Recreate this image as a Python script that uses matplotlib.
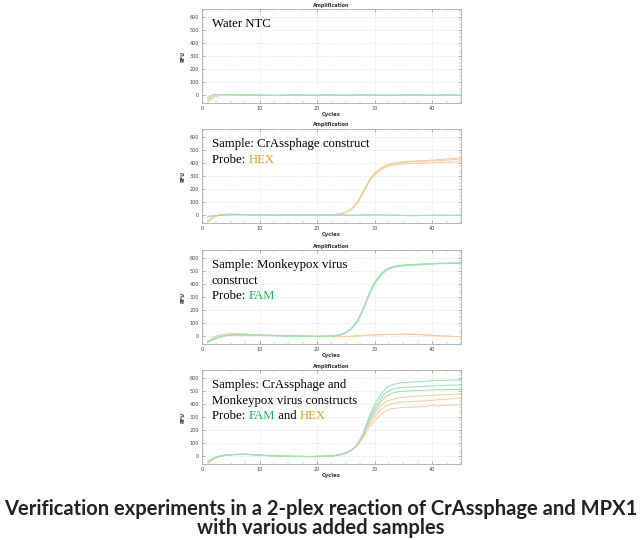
import matplotlib
matplotlib.use("Agg")
import matplotlib.pyplot as plt
from matplotlib.ticker import MultipleLocator

cycles = list(range(1, 46))

# Panel 1: Water NTC
p1_green = [
    [-30, 5, 6, 4, 3, 3, 2, 2, 1, 0, -1, -2, -2, -1, 0, 1, 1, 0, -1, 0, 1, 1, 0, -1, -1, 0, 1, 2, 1, 0, -1, -1, 0, 0, 1, 1, 2, 1, 0, -1, 0, 1, 1, 0, 0],
    [-20, 3, 5, 5, 4, 3, 3, 2, 1, 1, 0, -1, -1, 0, 1, 1, 2, 1, 0, 0, 0, 1, 1, 0, 0, -1, 0, 1, 1, 1, 0, 0, -1, 0, 0, 1, 1, 1, 0, 0, 0, 1, 0, 0, -1],
]
p1_orange = [
    [-55, -20, 0, 2, 3, 2, 2, 1, 0, -1, -2, -3, -3, -2, -1, 0, 0, -1, -2, -1, 0, 0, -1, -2, -2, -1, 0, 1, 0, -1, -2, -2, -1, -1, 0, 0, 1, 0, -1, -2, -1, 0, 0, -1, -1],
    [-45, -10, 2, 3, 3, 3, 2, 1, 1, 0, -1, -2, -2, -1, 0, 0, 1, 0, -1, -1, 0, 0, 0, -1, -1, 0, 1, 1, 1, 0, -1, -1, 0, 0, 0, 1, 1, 0, 0, -1, 0, 0, 1, 0, 0],
]

# Panel 2: CrAssphage construct (HEX amplifies)
p2_orange = [
    [-45, -15, 2, 5, 6, 5, 4, 3, 2, 1, 0, -2, -3, -3, -2, -1, -1, -2, -2, -1, 0, 1, 3, 8, 24, 52, 100, 180, 266, 325, 360, 385, 398, 405, 410, 413, 416, 418, 420, 423, 426, 430, 434, 437, 440],
    [-50, -18, 1, 4, 5, 5, 4, 3, 2, 1, 0, -2, -3, -3, -2, -1, -1, -2, -2, -1, 0, 1, 3, 8, 22, 48, 95, 175, 260, 318, 352, 378, 392, 400, 405, 408, 410, 412, 414, 416, 418, 420, 424, 428, 432],
    [-55, -20, 0, 3, 5, 4, 4, 3, 2, 1, 0, -2, -3, -3, -2, -1, -1, -2, -2, -1, 0, 1, 2, 7, 20, 45, 90, 168, 252, 310, 345, 368, 381, 388, 393, 396, 398, 399, 400, 401, 403, 405, 406, 408, 410],
]
p2_green = [
    [-15, -8, -3, 0, 1, 2, 2, 1, 1, 0, 0, -1, -1, -1, -1, 0, 0, -1, -1, -1, 0, 0, 0, -1, -1, -2, -2, -1, -1, 0, 0, -1, -2, -3, -4, -5, -5, -4, -3, -3, -2, -2, -3, -3, -2],
    [-12, -6, -2, 1, 2, 3, 3, 2, 1, 1, 0, 0, -1, 0, 0, 1, 0, 0, -1, 0, 0, 1, 0, 0, -1, -1, -1, 0, 0, 1, 0, 0, -1, -2, -3, -4, -4, -3, -2, -2, -1, -1, -2, -2, -1],
]

# Panel 3: Monkeypox virus construct (FAM amplifies)
p3_green = [
    [-40, -25, -8, 3, 8, 10, 10, 9, 8, 7, 6, 5, 4, 3, 2, 1, 0, 0, -1, -1, 0, 1, 3, 10, 28, 60, 115, 205, 320, 410, 470, 510, 530, 540, 545, 548, 550, 552, 554, 557, 559, 560, 561, 562, 563],
    [-38, -22, -6, 4, 9, 11, 11, 10, 9, 7, 6, 5, 4, 3, 2, 1, 1, 0, 0, -1, 0, 1, 4, 11, 30, 63, 120, 212, 328, 416, 475, 514, 533, 543, 548, 551, 553, 555, 557, 559, 561, 562, 563, 564, 565],
    [-42, -27, -10, 2, 7, 9, 9, 8, 7, 6, 5, 4, 3, 2, 1, 0, 0, -1, -1, -2, -1, 0, 2, 9, 26, 57, 110, 198, 312, 402, 464, 505, 526, 536, 541, 544, 547, 549, 552, 555, 557, 558, 559, 560, 561],
]
p3_orange = [
    [-55, -10, 8, 15, 18, 18, 17, 15, 12, 10, 9, 8, 7, 5, 4, 3, 2, 1, 0, -1, -2, -2, -3, -3, -2, 0, 3, 6, 9, 11, 12, 13, 14, 15, 16, 16, 15, 13, 10, 7, 4, 2, 0, -2, -3],
    [-50, -8, 6, 13, 16, 17, 16, 14, 11, 9, 8, 7, 6, 4, 3, 2, 1, 0, -1, -2, -3, -3, -4, -4, -3, -1, 2, 5, 8, 10, 11, 12, 13, 14, 14, 14, 13, 11, 8, 5, 3, 1, -1, -3, -4],
]

# Panel 4: CrAssphage and Monkeypox virus constructs (both amplify)
p4_green = [
    [-40, -15, 0, 8, 12, 14, 15, 14, 12, 9, 6, 4, 2, 1, 0, -1, -1, -2, -2, -1, 0, 2, 5, 12, 25, 48, 90, 175, 300, 400, 470, 525, 550, 560, 566, 569, 572, 575, 578, 582, 583, 584, 585, 586, 587],
    [-40, -15, 0, 8, 12, 14, 15, 14, 12, 9, 6, 4, 2, 1, 0, -1, -1, -2, -2, -1, 0, 2, 5, 12, 25, 48, 90, 168, 285, 372, 440, 490, 515, 525, 530, 532, 534, 536, 538, 541, 543, 545, 546, 548, 549],
    [-40, -15, 0, 8, 12, 14, 15, 14, 12, 9, 6, 4, 2, 1, 0, -1, -1, -2, -2, -1, 0, 2, 5, 12, 25, 48, 90, 162, 270, 350, 415, 460, 485, 495, 500, 503, 505, 507, 509, 510, 511, 512, 513, 513, 513],
]
p4_orange = [
    [-60, -20, -2, 6, 11, 13, 14, 13, 11, 8, 5, 3, 1, 0, -1, -2, -2, -3, -3, -2, -1, 1, 4, 11, 24, 47, 88, 155, 255, 330, 385, 420, 437, 447, 453, 458, 461, 464, 466, 468, 471, 474, 476, 478, 480],
    [-60, -20, -2, 6, 11, 13, 14, 13, 11, 8, 5, 3, 1, 0, -1, -2, -2, -3, -3, -2, -1, 1, 4, 11, 24, 46, 86, 148, 240, 305, 355, 388, 404, 412, 417, 420, 423, 425, 427, 430, 434, 437, 440, 443, 446],
    [-60, -20, -2, 6, 11, 13, 14, 13, 11, 8, 5, 3, 1, 0, -1, -2, -2, -3, -3, -2, -1, 1, 4, 11, 23, 45, 84, 140, 220, 272, 318, 350, 366, 372, 375, 377, 379, 381, 382, 392, 386, 390, 393, 395, 397],
]

panel_titles = "Amplification"
x_label = "Cycles"
y_label = "RFU"
x_ticks = [0, 10, 20, 30, 40]
y_ticks = [0, 100, 200, 300, 400, 500, 600]

caption_lines = ["Verification experiments in a 2-plex reaction of CrAssphage and MPX1",
                 "with various added samples"]

GREEN_LINE = "#9ee0b4"
ORANGE_LINE = "#f8cca2"
FAM = "#1fb65a"
HEX = "#d8a224"

fig = plt.figure(figsize=(6.41, 5.40), dpi=100)

panels = [
    (0.8093, p1_green, p1_orange, [[("Water NTC", "black")]]),
    (0.5874, p2_green, p2_orange, [[("Sample: CrAssphage construct", "black")],
                                   [("Probe: ", "black"), ("HEX", HEX)]]),
    (0.3630, p3_green, p3_orange, [[("Sample: Monkeypox virus", "black")],
                                   [("construct", "black")],
                                   [("Probe: ", "black"), ("FAM", FAM)]]),
    (0.1407, p4_green, p4_orange, [[("Samples: CrAssphage and", "black")],
                                   [("Monkeypox virus constructs", "black")],
                                   [("Probe: ", "black"), ("FAM", FAM), (" and ", "black"), ("HEX", HEX)]]),
]

left, width, height = 0.3151, 0.4041, 0.1733
axes = []
for bottom, greens, oranges, lines in panels:
    ax = fig.add_axes([left, bottom, width, height])
    axes.append(ax)
    for ys in oranges:
        ax.plot(cycles, ys, color=ORANGE_LINE, lw=0.75, zorder=3)
    for ys in greens:
        ax.plot(cycles, ys, color=GREEN_LINE, lw=0.75, zorder=4)
    ax.set_xlim(0, 45)
    ax.set_ylim(-60, 660)
    ax.set_xticks(x_ticks)
    ax.set_yticks(y_ticks)
    ax.xaxis.set_minor_locator(MultipleLocator(2.5))
    ax.yaxis.set_minor_locator(MultipleLocator(25))
    ax.tick_params(which="major", labelsize=3.5, length=2, width=0.4, colors="#777777", labelcolor="#444444", pad=2,
                   right=True, top=True, direction="in")
    ax.tick_params(which="minor", length=1.2, width=0.3, colors="#999999", right=True, top=True, direction="in")
    ax.grid(True, which="major", color="#cccccc", lw=0.4, ls=(0, (1, 1.5)))
    for s in ax.spines.values():
        s.set_color("#aaaaaa")
        s.set_linewidth(0.6)
    ax.set_title(panel_titles, fontsize=3.5, fontweight="bold", pad=2, color="#333333")
    ax.set_xlabel(x_label, fontsize=3.8, fontweight="bold", labelpad=1, color="#333333")
    ax.set_ylabel(y_label, fontsize=3.5, fontweight="bold", labelpad=3, color="#333333")
    ax._text_lines = lines

fig.canvas.draw()
renderer = fig.canvas.get_renderer()
fs = 9.2
line_h_px = 15.3
for ax in axes:
    bb = ax.get_window_extent()
    x0 = bb.x0 + 10
    y_top = bb.y1 - 9
    for i, segs in enumerate(ax._text_lines):
        x = x0
        y = y_top - i * line_h_px
        for txt, col in segs:
            t = fig.text(x / fig.bbox.width, y / fig.bbox.height, txt, color=col,
                         fontsize=fs, family="Liberation Serif", ha="left", va="top", zorder=10)
            x = t.get_window_extent(renderer).x1

for line, ypx in zip(caption_lines, [509, 528]):
    fig.text(0.5, 1 - ypx / 540, line, ha="center", va="center", fontsize=14.5, family="Lato",
             fontweight="bold", color="#222222")

fig.savefig("out.png", dpi=100, facecolor="white")
